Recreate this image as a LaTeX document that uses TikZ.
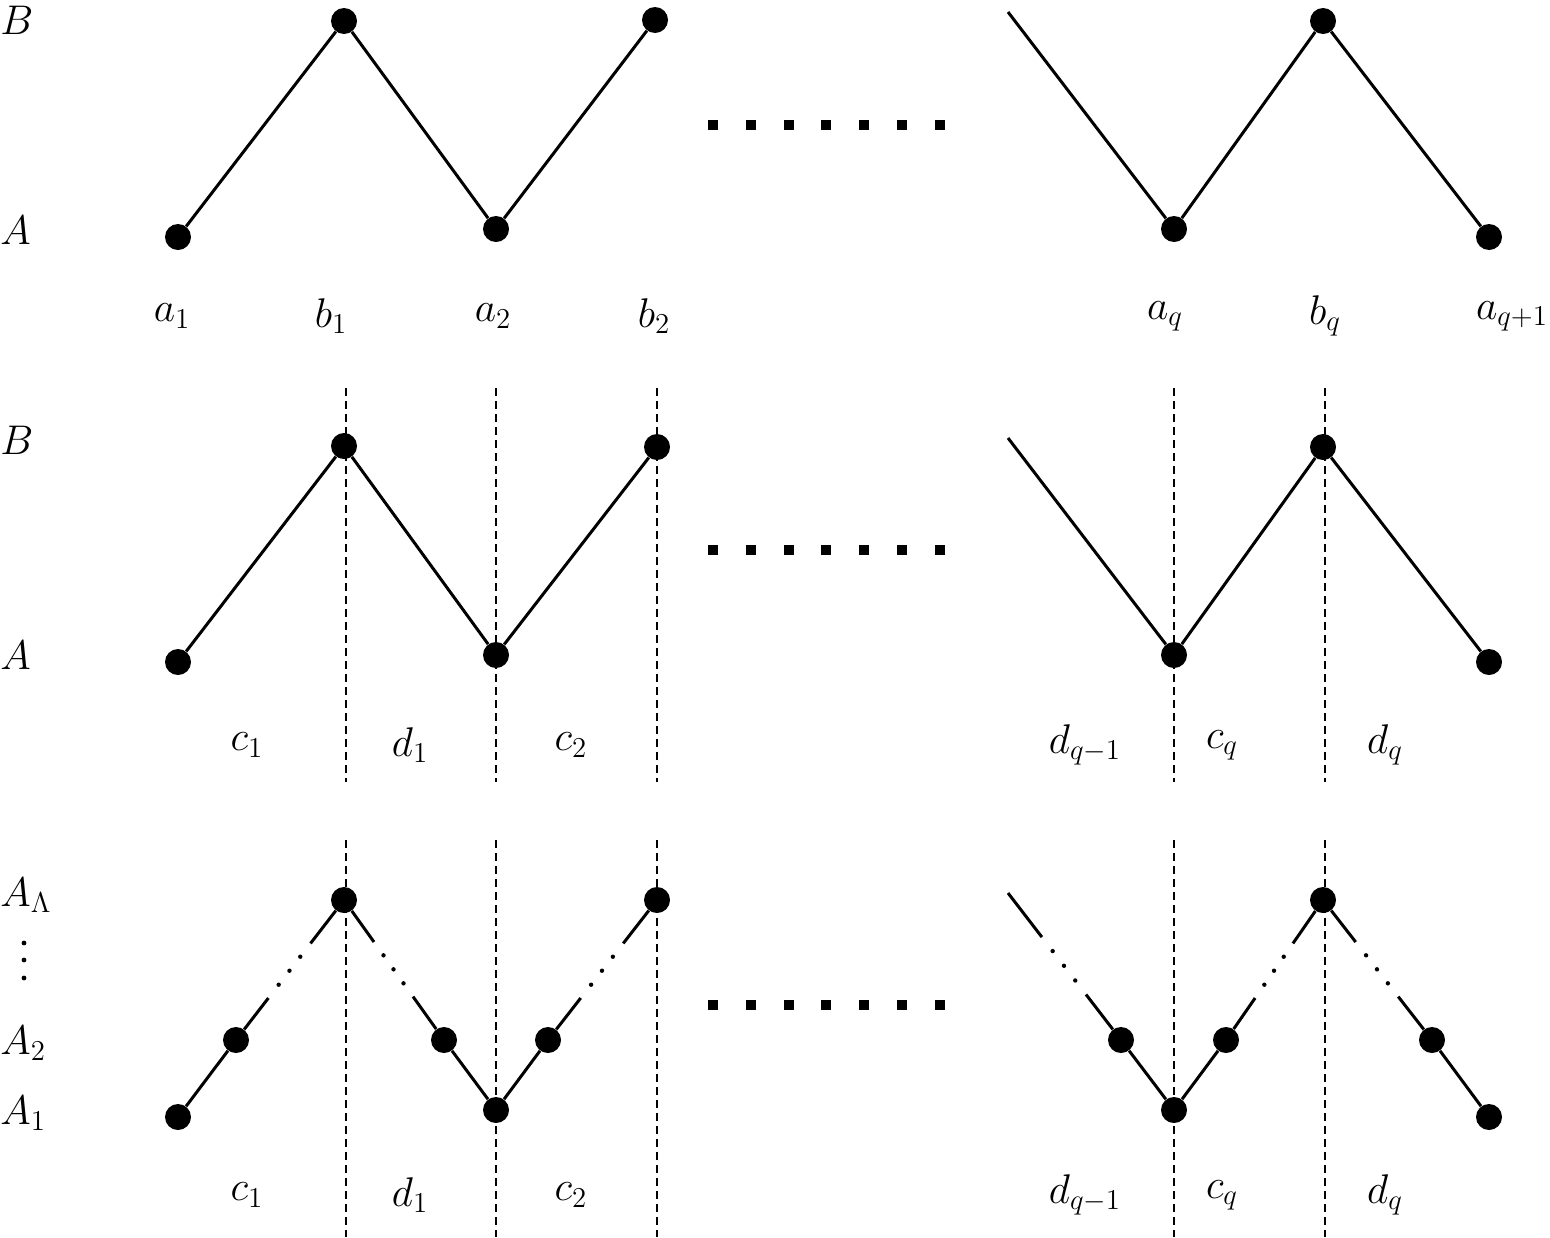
\documentclass[tikz,border=0pt]{standalone}
\usetikzlibrary{calc}
\begin{document}
\begin{tikzpicture}[x=0.5pt,y=-0.5pt,
  vtx/.style={circle,fill=black,inner sep=0pt,minimum size=13pt},
  edge/.style={line width=1.5pt},
  guide/.style={line width=0.9pt,dash pattern=on 4pt off 2.5pt},
  lab/.style={font=\fontsize{20}{24}\selectfont,inner sep=0pt},
  sq/.style={fill=black,minimum size=5pt,inner sep=0pt},
  vdot/.style={circle,fill=black,inner sep=0pt,minimum size=2.4pt}]
\useasboundingbox (0,0) rectangle (1550,1237);
\newcommand\dotseg[2]{%
  \draw[edge] (#1) -- ($(#1)!0.3!(#2)$);
  \draw[edge] ($(#1)!0.69!(#2)$) -- (#2);
  \foreach \t in {0.395,0.495,0.595} \fill ($(#1)!\t!(#2)$) circle (1.1pt);}
% ===== panel 1 =====
\node[lab,anchor=west] (B1) at (0,20) {$B$};
\node[lab,anchor=west] (A1) at (0,230) {$A$};
\node[vtx] (p1a1) at (178,237) {};
\node[vtx] (p1b1) at (344,21) {};
\node[vtx] (p1a2) at (496,229) {};
\node[vtx] (p1b2) at (655,20) {};
\coordinate (p1s) at (1008,12);
\node[vtx] (p1aq) at (1174,229) {};
\node[vtx] (p1bq) at (1323,21) {};
\node[vtx] (p1aq1) at (1489,237) {};
\draw[edge] (p1a1) -- (p1b1) -- (p1a2) -- (p1b2);
\draw[edge] (p1s) -- (p1aq) -- (p1bq) -- (p1aq1);
\foreach \i in {0,...,6} \node[sq] (r1s\i) at (713+37.8*\i,125) {};
\node[lab] (la1) at (172,316) {$a_1$};
\node[lab] (lb1) at (331,316) {$b_1$};
\node[lab] (la2) at (493,316) {$a_2$};
\node[lab] (lb2) at (654,316) {$b_2$};
\node[lab] (laq) at (1165,316) {$a_q$};
\node[lab] (lbq) at (1325,316) {$b_q$};
\node[lab] (laq1) at (1512,316) {$a_{q+1}$};
% ===== panel 2 =====
\foreach \x [count=\k] in {346,496,657,1174,1325}{
  \coordinate (g2t\k) at (\x,388); \coordinate (g2b\k) at (\x,782);
  \draw[guide] (g2t\k) -- (g2b\k);}
\node[lab,anchor=west] (B2) at (0,440) {$B$};
\node[lab,anchor=west] (A2) at (0,655) {$A$};
\node[vtx] (p2a1) at (178,662) {};
\node[vtx] (p2b1) at (344,446) {};
\node[vtx] (p2a2) at (496,655) {};
\node[vtx] (p2b2) at (657,447) {};
\coordinate (p2s) at (1008,438);
\node[vtx] (p2aq) at (1174,655) {};
\node[vtx] (p2bq) at (1323,447) {};
\node[vtx] (p2aq1) at (1489,662) {};
\draw[edge] (p2a1) -- (p2b1) -- (p2a2) -- (p2b2);
\draw[edge] (p2s) -- (p2aq) -- (p2bq) -- (p2aq1);
\foreach \i in {0,...,6} \node[sq] (r2s\i) at (713+37.8*\i,550) {};
\node[lab] (lc1) at (247,745) {$c_1$};
\node[lab] (ld1) at (410,745) {$d_1$};
\node[lab] (lc2) at (571,745) {$c_2$};
\node[lab] (ldq1) at (1085,745) {$d_{q-1}$};
\node[lab] (lcq) at (1222,745) {$c_q$};
\node[lab] (ldq) at (1385,745) {$d_q$};
% ===== panel 3 =====
\foreach \x [count=\k] in {346,496,657,1174,1325}{
  \coordinate (g3t\k) at (\x,840); \coordinate (g3b\k) at (\x,1237);
  \draw[guide] (g3t\k) -- (g3b\k);}
\node[lab,anchor=west] (AL) at (0,895) {$A_\Lambda$};
\node[vdot] (AV1) at (24,943) {};
\node[vdot] (AV2) at (24,960) {};
\node[vdot] (AV3) at (24,978) {};
\node[lab,anchor=west] (AA2) at (0,1043) {$A_2$};
\node[lab,anchor=west] (AA1) at (0,1113) {$A_1$};
\node[vtx] (p3a1) at (178,1117) {};
\node[vtx] (p3m1) at (236,1040) {};
\node[vtx] (p3b1) at (344,900) {};
\node[vtx] (p3m2) at (444,1040) {};
\node[vtx] (p3a2) at (496,1110) {};
\node[vtx] (p3m3) at (548,1040) {};
\node[vtx] (p3b2) at (657,900) {};
\coordinate (p3s) at (1008,893);
\node[vtx] (p3m4) at (1121,1040) {};
\node[vtx] (p3aq) at (1174,1110) {};
\node[vtx] (p3m5) at (1226,1040) {};
\node[vtx] (p3bq) at (1323,900) {};
\node[vtx] (p3m6) at (1432,1040) {};
\node[vtx] (p3aq1) at (1489,1117) {};
\draw[edge] (p3a1) -- (p3m1);
\dotseg{p3m1}{p3b1}
\dotseg{p3b1}{p3m2}
\draw[edge] (p3m2) -- (p3a2) -- (p3m3);
\dotseg{p3m3}{p3b2}
\dotseg{p3s}{p3m4}
\draw[edge] (p3m4) -- (p3aq) -- (p3m5);
\dotseg{p3m5}{p3bq}
\dotseg{p3bq}{p3m6}
\draw[edge] (p3m6) -- (p3aq1);
\foreach \i in {0,...,6} \node[sq] (r3s\i) at (713+37.8*\i,1005) {};
\node[lab] (mc1) at (247,1195) {$c_1$};
\node[lab] (md1) at (410,1195) {$d_1$};
\node[lab] (mc2) at (571,1195) {$c_2$};
\node[lab] (mdq1) at (1085,1195) {$d_{q-1}$};
\node[lab] (mcq) at (1222,1195) {$c_q$};
\node[lab] (mdq) at (1385,1195) {$d_q$};
\end{tikzpicture}
\end{document}
